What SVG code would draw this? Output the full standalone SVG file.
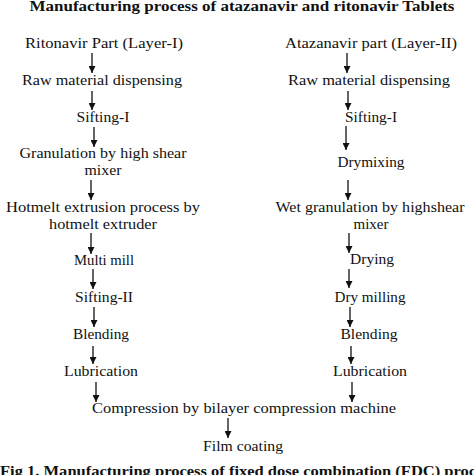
<svg xmlns="http://www.w3.org/2000/svg" width="474" height="475" viewBox="0 0 474 475">
<defs>
<marker id="ah" viewBox="0 0 10 10" refX="10" refY="5" markerWidth="7" markerHeight="7" markerUnits="userSpaceOnUse" orient="auto">
<path d="M0,0 L10,5 L0,10 z" fill="#111"/>
</marker>
<style>
text{font-family:"Liberation Serif","Times New Roman",serif;font-size:15px;fill:#111;text-anchor:middle}
.t{font-weight:bold;font-size:14.5px}
.c{font-weight:bold;font-size:14.5px;text-anchor:start}
.e line{stroke:#111;stroke-width:1.3;marker-end:url(#ah)}
</style>
</defs>
<rect width="474" height="475" fill="#fff"/>
<text class="t" x="242" y="10.5" textLength="425" lengthAdjust="spacingAndGlyphs">Manufacturing process of atazanavir and ritonavir Tablets</text>
<g id="L1"><text x="104" y="48" textLength="158" lengthAdjust="spacingAndGlyphs">Ritonavir Part (Layer-I)</text></g>
<g id="L2"><text x="102" y="85" textLength="160" lengthAdjust="spacingAndGlyphs">Raw material dispensing</text></g>
<g id="L3"><text x="103" y="122" textLength="53" lengthAdjust="spacingAndGlyphs">Sifting-I</text></g>
<g id="L4"><text x="103" y="158" textLength="167" lengthAdjust="spacingAndGlyphs">Granulation by high shear</text><text x="103" y="175" textLength="37" lengthAdjust="spacingAndGlyphs">mixer</text></g>
<g id="L5"><text x="103" y="212" textLength="194" lengthAdjust="spacingAndGlyphs">Hotmelt extrusion process by</text><text x="103" y="229" textLength="108" lengthAdjust="spacingAndGlyphs">hotmelt extruder</text></g>
<g id="L6"><text x="104" y="265" textLength="60" lengthAdjust="spacingAndGlyphs">Multi mill</text></g>
<g id="L7"><text x="104" y="302" textLength="58" lengthAdjust="spacingAndGlyphs">Sifting-II</text></g>
<g id="L8"><text x="101" y="339" textLength="56" lengthAdjust="spacingAndGlyphs">Blending</text></g>
<g id="L9"><text x="101" y="376" textLength="74" lengthAdjust="spacingAndGlyphs">Lubrication</text></g>
<g id="R1"><text x="371" y="48" textLength="172" lengthAdjust="spacingAndGlyphs">Atazanavir part (Layer-II)</text></g>
<g id="R2"><text x="369" y="85" textLength="162" lengthAdjust="spacingAndGlyphs">Raw material dispensing</text></g>
<g id="R3"><text x="371" y="122" textLength="52" lengthAdjust="spacingAndGlyphs">Sifting-I</text></g>
<g id="R4"><text x="371" y="167" textLength="67" lengthAdjust="spacingAndGlyphs">Drymixing</text></g>
<g id="R5"><text x="370" y="212" textLength="189" lengthAdjust="spacingAndGlyphs">Wet granulation by highshear</text><text x="371" y="229" textLength="35" lengthAdjust="spacingAndGlyphs">mixer</text></g>
<g id="R6"><text x="372" y="264" textLength="44" lengthAdjust="spacingAndGlyphs">Drying</text></g>
<g id="R7"><text x="370" y="302" textLength="71" lengthAdjust="spacingAndGlyphs">Dry milling</text></g>
<g id="R8"><text x="369" y="339" textLength="57" lengthAdjust="spacingAndGlyphs">Blending</text></g>
<g id="R9"><text x="370" y="376" textLength="74" lengthAdjust="spacingAndGlyphs">Lubrication</text></g>
<g id="C1"><text x="244" y="413" textLength="304" lengthAdjust="spacingAndGlyphs">Compression by bilayer compression machine</text></g>
<g id="C2"><text x="243" y="451" textLength="80" lengthAdjust="spacingAndGlyphs">Film coating</text></g>
<text class="c" x="0" y="475.5" textLength="500" lengthAdjust="spacingAndGlyphs">Fig 1. Manufacturing process of fixed dose combination (FDC) product</text>
<g class="e" id="edges">
<line x1="92" y1="53" x2="92" y2="73"/>
<line x1="92" y1="91" x2="92" y2="110"/>
<line x1="94" y1="127" x2="94" y2="147"/>
<line x1="91" y1="180" x2="91" y2="200"/>
<line x1="91" y1="233" x2="91" y2="254"/>
<line x1="93" y1="269" x2="93" y2="289"/>
<line x1="94" y1="307" x2="94" y2="327"/>
<line x1="93" y1="346" x2="93" y2="364"/>
<line x1="96" y1="382" x2="96" y2="402"/>
<line x1="347" y1="53" x2="347" y2="73"/>
<line x1="348" y1="91" x2="348" y2="110"/>
<line x1="346" y1="126" x2="346" y2="150"/>
<line x1="348" y1="180" x2="348" y2="200"/>
<line x1="349" y1="233" x2="349" y2="253"/>
<line x1="349" y1="269" x2="349" y2="288"/>
<line x1="350" y1="307" x2="350" y2="327"/>
<line x1="351" y1="346" x2="351" y2="364"/>
<line x1="352" y1="382" x2="352" y2="402"/>
<line x1="228" y1="418" x2="228" y2="438"/>
</g>
</svg>
